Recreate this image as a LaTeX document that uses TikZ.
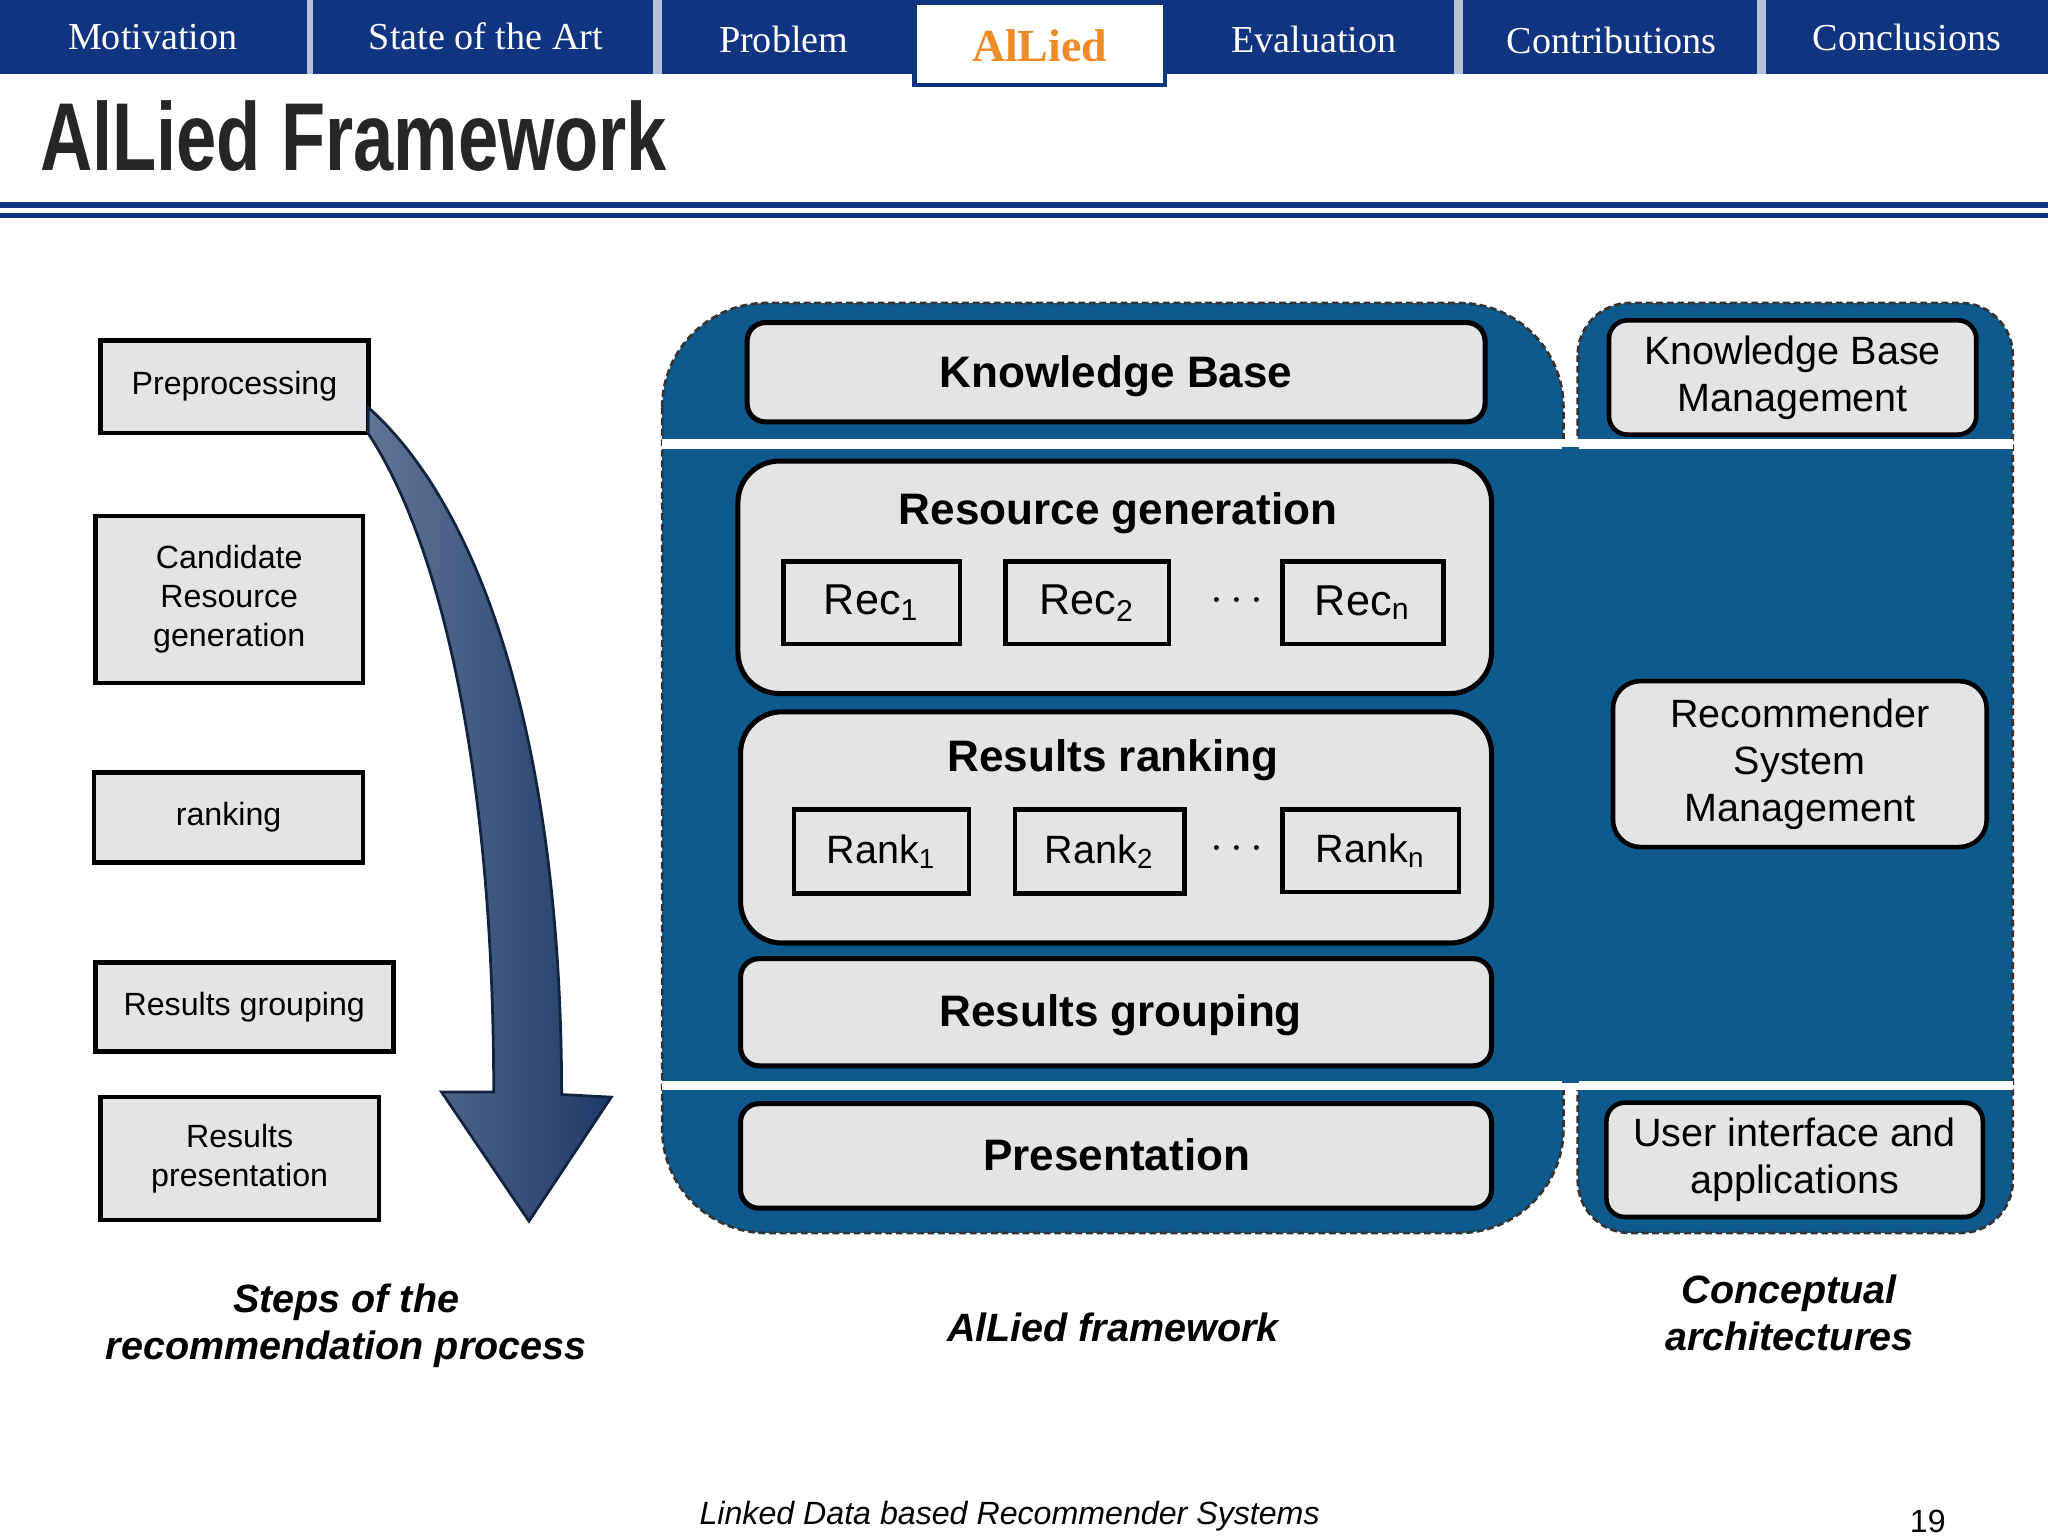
\documentclass[tikz,border=0pt]{standalone}
\usepackage{fontspec}
\setmainfont{Liberation Sans}
\newfontfamily\tabfont{Liberation Serif}
\definecolor{barblue}{RGB}{16,52,128}
\definecolor{panel}{RGB}{14,90,140}
\definecolor{boxgray}{RGB}{228,228,231}
\definecolor{arrowblue}{RGB}{30,58,105}
\definecolor{orangeT}{RGB}{240,140,40}
\tikzset{
 tabtext/.style={text=white,font=\tabfont\fontsize{8.3}{9}\selectfont},
 stepbox/.style={draw=black,line width=1pt,fill=boxgray,align=center,font=\fontsize{7}{8.5}\selectfont},
 layer/.style={draw=black,line width=1.1pt,fill=boxgray,rounded corners=4pt},
 layertext/.style={font=\bfseries\fontsize{9.6}{11}\selectfont},
 recbox/.style={draw=black,line width=1pt,fill=boxgray,font=\fontsize{9.4}{11}\selectfont},
 archbox/.style={draw=black,line width=1pt,fill=boxgray,rounded corners=4pt,align=center,font=\fontsize{8.6}{10.2}\selectfont},
 caption/.style={align=center,font=\bfseries\itshape\fontsize{8.6}{10.2}\selectfont},
 panelborder/.style={draw=black!80,dash pattern=on 1.5pt off 0.8pt,line width=0.6pt},
}
\begin{document}
\begin{tikzpicture}[x=0.01cm,y=-0.01cm]
\useasboundingbox (0,0) rectangle (1568,1176);
% tabs
\fill[barblue] (0,0) rectangle (1568,57);
\foreach \a/\b in {235/240,500/507,1113/1120,1345/1352}{\fill[white!70!barblue] (\a,0) rectangle (\b,57);}
\node[tabtext] (t1) at (117,28) {Motivation};
\node[tabtext] (t2) at (372,28) {State of the Art};
\node[tabtext] (t3) at (600,30) {Problem};
\draw[fill=white,draw=barblue,line width=1pt] (700,2) rectangle (892,65);
\node[text=orangeT,font=\tabfont\bfseries\fontsize{10}{11}\selectfont] (t4) at (796,35) {AlLied};
\node[tabtext] (t5) at (1006,30) {Evaluation};
\node[tabtext] (t6) at (1234,31) {Contributions};
\node[tabtext] (t7) at (1460,29) {Conclusions};
% title
\node[anchor=west,inner sep=0,text=black!85] (title) at (30,104) {\scalebox{0.75}[1]{\fontsize{21}{24}\selectfont\bfseries AlLied Framework}};
\draw[barblue,line width=1.2pt] (0,157) -- (1568,157);
\draw[barblue,line width=1.2pt] (0,165) -- (1568,165);
% left steps
\node[stepbox,minimum width=2.05cm,minimum height=0.71cm] (s1) at (179.5,296) {Preprocessing};
\node[stepbox,minimum width=2.05cm,minimum height=1.28cm] (s2) at (175.5,459) {Candidate\\Resource\\generation};
\node[stepbox,minimum width=2.06cm,minimum height=0.69cm] (s3) at (175,626) {ranking};
\node[stepbox,minimum width=2.28cm,minimum height=0.68cm] (s4) at (187,771) {Results grouping};
\node[stepbox,minimum width=2.13cm,minimum height=0.94cm] (s5) at (183.5,887) {Results\\presentation};
% arrow
\shade[left color=arrowblue!70!white,right color=arrowblue,draw=arrowblue!60!black,line width=0.6pt]
 (282,312) .. controls (380,400) and (430,600) .. (430,838) -- (468,840) -- (405,935) -- (338,836) -- (378,836)
 .. controls (378,600) and (340,420) .. (282,332) -- cycle;
% panels
\fill[panel,rounded corners=0.8cm] (507,232) rectangle (1197,944);
\draw[panelborder,rounded corners=0.8cm] (507,232) rectangle (1197,944);
\fill[panel,rounded corners=0.4cm] (1208,232) rectangle (1541,944);
\draw[panelborder,rounded corners=0.4cm] (1208,232) rectangle (1541,944);
\draw[white,line width=2pt] (507,340) -- (1541,340);
\draw[white,line width=2pt] (507,831) -- (1541,831);
\fill[panel] (1196,342) rectangle (1209,829);
% middle layers
\draw[layer] (572,247) rectangle (1137,323);
\node[layertext] (kb) at (854.5,288) {Knowledge Base};
\draw[layer,rounded corners=9pt] (565,353) rectangle (1142,531);
\node[layertext] (rg) at (856,393) {Resource generation};
\node[recbox,minimum width=1.35cm,minimum height=0.63cm] (r1) at (667.5,461.5) {Rec\textsubscript{1}};
\node[recbox,minimum width=1.25cm,minimum height=0.63cm] (r2) at (832.5,461.5) {Rec\textsubscript{2}};
\node (rd) at (947,460) {$\cdots$};
\node[recbox,minimum width=1.23cm,minimum height=0.63cm] (r3) at (1043.5,461.5) {Rec\textsubscript{n}};
\draw[layer,rounded corners=9pt] (567,545) rectangle (1142,722);
\node[layertext] (rr) at (852,582) {Results ranking};
\node[recbox,minimum width=1.34cm,minimum height=0.64cm,font=\fontsize{8.6}{10}\selectfont] (k1) at (675,652) {Rank\textsubscript{1}};
\node[recbox,minimum width=1.30cm,minimum height=0.64cm,font=\fontsize{8.6}{10}\selectfont] (k2) at (842,652) {Rank\textsubscript{2}};
\node (kd) at (947,650) {$\cdots$};
\node[recbox,minimum width=1.35cm,minimum height=0.63cm,font=\fontsize{8.6}{10}\selectfont] (k3) at (1049.5,651.5) {Rank\textsubscript{n}};
\draw[layer] (567,734) rectangle (1142,816);
\node[layertext] (gr) at (858,777) {Results grouping};
\draw[layer] (567,845) rectangle (1142,925);
\node[layertext] (pr) at (855,884) {Presentation};
% right
\node[archbox,minimum width=2.81cm,minimum height=0.78cm] (a1) at (1372.5,289) {Knowledge Base\\Management};
\node[archbox,minimum width=2.86cm,minimum height=1.27cm,rounded corners=6pt] (a2) at (1378,585) {Recommender\\System\\Management};
\node[archbox,minimum width=2.88cm,minimum height=0.80cm] (a3) at (1374,888) {User interface and\\applications};
% captions
\node[caption] (c1) at (265,1015) {Steps of the\\recommendation process};
\node[caption] (c2) at (852,1016) {AlLied framework};
\node[caption] (c3) at (1370,1005) {Conceptual\\architectures};
\node[font=\itshape\fontsize{7}{8}\selectfont] (f1) at (773,1161) {Linked Data based Recommender Systems};
\node[font=\fontsize{7}{8}\selectfont] (f2) at (1476,1165) {19};
\end{tikzpicture}
\end{document}
